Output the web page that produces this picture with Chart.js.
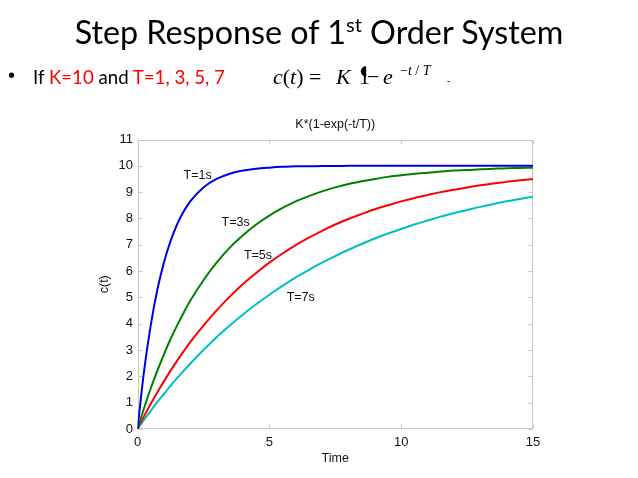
<!DOCTYPE html>
<html>
<head>
<meta charset="utf-8">
<title>Step Response of 1st Order System</title>
<script src="https://cdn.jsdelivr.net/npm/chart.js@4.4.1/dist/chart.umd.min.js"></script>
<style>
    html, body { margin: 0; padding: 0; background: #fff; }
    body { width: 638px; height: 478px; position: relative; overflow: hidden; }
    #stepChart { position: absolute; left: 0; top: 0; }
    .slideTitle {
        position: absolute; left: 0; width: 638px; top: 13px;
        text-align: center; font-family: Lato, sans-serif; font-size: 30px;
        line-height: 1.2; color: #000; white-space: nowrap;
    }
    .slideTitle sup { font-size: 0.62em; vertical-align: 0.62em; line-height: 0; }
    .bulletDot { position: absolute; left: 8px; top: 64px; font-family: "Liberation Sans"; font-size: 20px; }
    .bullet {
        position: absolute; left: 33px; top: 66px; white-space: nowrap;
        font-family: Lato, sans-serif; font-size: 20px; line-height: 1.2; color: #000;
    }
    .red { color: #ff0000; }
    .f { position: absolute; font-family: "Liberation Serif", serif; font-size: 22px; line-height: 1; top: 66px; white-space: nowrap; }
    .f i { font-style: italic; }
</style>
</head>
<body>
<canvas id="stepChart" width="638" height="478"></canvas>

<div class="slideTitle"><span id="titleText">Step Response of 1<sup>st</sup> Order System</span></div>
<div class="bulletDot">•</div>
<div class="bullet"><span id="bulletText">If <span class="red">K=10</span> and <span class="red">T=1, 3, 5, 7</span></span></div>

<div class="f" style="left:273px"><i>c</i>(<i>t</i>) =</div>
<div class="f" style="left:336px"><i>K</i></div>
<div class="f" style="left:359px">1</div>
<div class="f" style="left:360px;top:63px;font-family:'DejaVu Sans';font-size:14px">◖</div>
<div class="f" style="left:367px">−</div>
<div class="f" style="left:383px"><i>e</i></div>
<div class="f" style="left:400px;top:64px;font-size:14px">−<i>t</i> / <i>T</i></div>
<div class="f" style="left:447px;top:76px;font-size:10px">-</div>

<script>
// time axis (s) and read-off values of c(t) for each T
const times = [0, 0.25, 0.5, 0.75, 1, 1.25, 1.5, 1.75, 2, 2.5, 3, 3.5, 4, 4.5, 5, 5.5,
    6, 6.5, 7, 7.5, 8, 8.5, 9, 9.5, 10, 10.5, 11, 11.5, 12, 12.5, 13, 13.5, 14, 14.5, 15];

const responseT1 = [0, 2.21, 3.93, 5.28, 6.32, 7.13, 7.77, 8.26, 8.65, 9.18, 9.50, 9.70,
    9.82, 9.89, 9.93, 9.96, 9.98, 9.98, 9.99, 9.99, 10, 10, 10, 10, 10, 10, 10, 10, 10,
    10, 10, 10, 10, 10, 10];
const responseT3 = [0, 0.80, 1.54, 2.21, 2.83, 3.41, 3.93, 4.42, 4.87, 5.65, 6.32, 6.89,
    7.36, 7.77, 8.11, 8.40, 8.65, 8.85, 9.03, 9.18, 9.31, 9.41, 9.50, 9.58, 9.64, 9.70,
    9.74, 9.78, 9.82, 9.84, 9.87, 9.89, 9.91, 9.92, 9.93];
const responseT5 = [0, 0.49, 0.95, 1.39, 1.81, 2.21, 2.59, 2.95, 3.30, 3.93, 4.51, 5.03,
    5.51, 5.93, 6.32, 6.67, 6.99, 7.27, 7.53, 7.77, 7.98, 8.17, 8.35, 8.50, 8.65, 8.78,
    8.89, 9.00, 9.09, 9.18, 9.26, 9.33, 9.39, 9.45, 9.50];
const responseT7 = [0, 0.35, 0.69, 1.02, 1.33, 1.64, 1.93, 2.21, 2.48, 3.00, 3.49, 3.93,
    4.35, 4.74, 5.10, 5.44, 5.76, 6.05, 6.32, 6.57, 6.81, 7.03, 7.24, 7.43, 7.60, 7.77,
    7.92, 8.07, 8.20, 8.32, 8.44, 8.55, 8.65, 8.74, 8.83];

const seriesNames = ['T=1s', 'T=3s', 'T=5s', 'T=7s'];
const seriesColors = ['#0000e6', '#008000', '#ff0000', '#00bfbf'];

// where the curve names sit (data units)
const labelTimes = [2.28, 3.72, 4.57, 6.19];
const labelLevels = [9.63, 7.85, 6.6, 5.01];

const xTicks = [0, 5, 10, 15];
const yTicks = [0, 1, 2, 3, 4, 5, 6, 7, 8, 9, 10, 11];

// fit the slide texts to the widths in the picture
function fitWidth(id, target) {
    const el = document.getElementById(id);
    const box = el.parentElement;
    const fs = parseFloat(getComputedStyle(box).fontSize);
    const w = el.getBoundingClientRect().width;
    box.style.fontSize = (fs * target / w) + 'px';
}
fitWidth('titleText', 489);
fitWidth('bulletText', 192);

function toPoints(values) {
    return values.map((v, i) => ({ x: times[i], y: v }));
}

const boxPlugin = {
    id: 'boxPlugin',
    beforeDatasetsDraw(chart) {
        const { ctx, chartArea: a, scales: { x, y } } = chart;
        const l = Math.round(a.left) + 0.5, r = Math.round(a.right) - 0.5;
        const t = Math.round(a.top) + 0.5, b = Math.round(a.bottom) - 0.5;
        ctx.save();
        ctx.strokeStyle = '#c6c6c6';
        ctx.lineWidth = 1;
        ctx.strokeRect(l, t, r - l, b - t);
        ctx.beginPath();
        xTicks.forEach(v => {
            const px = Math.round(x.getPixelForValue(v)) + 0.5;
            ctx.moveTo(px, b); ctx.lineTo(px, b - 4);
            ctx.moveTo(px, t); ctx.lineTo(px, t + 4);
        });
        yTicks.forEach(v => {
            const py = Math.round(y.getPixelForValue(v)) + 0.5;
            ctx.moveTo(l, py); ctx.lineTo(l + 4, py);
            ctx.moveTo(r, py); ctx.lineTo(r - 4, py);
        });
        ctx.stroke();
        ctx.restore();
    },
    afterDatasetsDraw(chart) {
        const { ctx, scales: { x, y } } = chart;
        ctx.save();
        ctx.fillStyle = '#111';
        ctx.font = '12.5px "Liberation Sans", Arial, sans-serif';
        ctx.textAlign = 'center';
        ctx.textBaseline = 'middle';
        seriesNames.forEach((name, i) => {
            ctx.fillText(name, x.getPixelForValue(labelTimes[i]), y.getPixelForValue(labelLevels[i]));
        });
        ctx.restore();
    }
};

const allResponses = [responseT1, responseT3, responseT5, responseT7];

const stepData = {
    datasets: allResponses.map((vals, i) => ({
        label: seriesNames[i],
        data: toPoints(vals),
        borderColor: seriesColors[i],
        backgroundColor: seriesColors[i],
        borderWidth: 2,
        pointRadius: 0,
        cubicInterpolationMode: 'monotone',
        fill: false
    }))
};

const fontFamily = '"Liberation Sans", Arial, sans-serif';
const tickFont = { family: fontFamily, size: 13 };
const labelFont = { family: fontFamily, size: 12.5 };

const stepConfig = {
    type: 'line',
    data: stepData,
    options: {
        responsive: false,
        animation: false,
        layout: { padding: { left: 90, right: 105, top: 0, bottom: 0 } },
        plugins: {
            legend: { display: false },
            tooltip: { enabled: false },
            title: {
                display: true,
                text: 'K*(1-exp(-t/T))',
                color: '#111',
                fullSize: false,
                font: { family: fontFamily, size: 12.5, weight: 'normal' },
                padding: { top: 117, bottom: 7.5 }
            }
        },
        scales: {
            x: {
                type: 'linear',
                min: 0,
                max: 15,
                grid: { display: false, drawTicks: false },
                border: { display: false },
                afterBuildTicks: s => { s.ticks = xTicks.map(v => ({ value: v })); },
                ticks: { color: '#111', font: tickFont, padding: 6, maxRotation: 0 },
                title: { display: true, text: 'Time', color: '#111', font: labelFont, padding: { top: 0, bottom: 12 } },
                afterFit: s => { s.height = 49; }
            },
            y: {
                min: 0,
                max: 11,
                grid: { display: false, drawTicks: false },
                border: { display: false },
                afterBuildTicks: s => { s.ticks = yTicks.map(v => ({ value: v })); },
                ticks: { color: '#111', font: tickFont, padding: 4.5 },
                title: { display: true, text: 'c(t)', color: '#111', font: labelFont, padding: { top: 7, bottom: 0 } },
                afterFit: s => { s.width = 47.5; }
            }
        }
    },
    plugins: [boxPlugin]
};

const stepChart = new Chart(document.getElementById('stepChart'), stepConfig);
</script>
</body>
</html>
